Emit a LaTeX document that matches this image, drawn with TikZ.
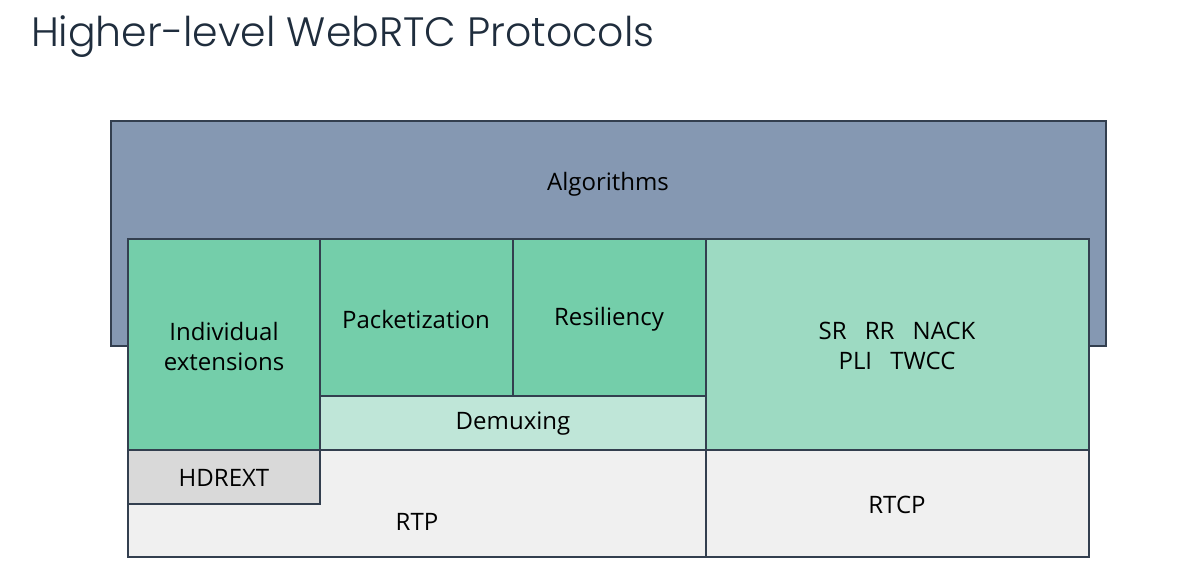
\documentclass[tikz,border=0pt]{standalone}
\usepackage{fontspec}
\setmainfont{Open Sans}
\newfontfamily\titlefont{Poppins Light}
\definecolor{algo}{HTML}{8598B2}
\definecolor{gdark}{HTML}{74CEAA}
\definecolor{gmid}{HTML}{9DDAC2}
\definecolor{glight}{HTML}{BFE6D8}
\definecolor{greyb}{HTML}{D9D9D9}
\definecolor{greyl}{HTML}{F0F0F0}
\definecolor{edge}{HTML}{333F4F}
\definecolor{titlec}{HTML}{1F2D3D}
\tikzset{blk/.style={draw=edge,line width=0.7pt},
 lbl/.style={font=\fontsize{12pt}{15pt}\selectfont,align=center,text=black}}
\begin{document}
\begin{tikzpicture}[x=0.5pt,y=-0.5pt]
\useasboundingbox (0,0) rectangle (1200,586);
\node[anchor=west,text=titlec,font=\titlefont\fontsize{20.5pt}{24pt}\selectfont] (title) at (24,37) {Higher-level WebRTC Protocols};
\draw[blk,fill=algo] (111,121) rectangle (1106,346);
\node[lbl] (alg) at (608,184) {Algorithms};
\draw[blk,fill=greyl] (128,450) rectangle (706,557);
\node[lbl] (rtp) at (417,522) {RTP};
\draw[blk,fill=greyl] (706,450) rectangle (1089,557);
\node[lbl] (rtcp) at (897,505) {RTCP};
\draw[blk,fill=greyb] (128,450) rectangle (320,504);
\node[lbl] (hdr) at (224,478) {HDREXT};
\draw[blk,fill=gdark] (128,239) rectangle (320,450);
\node[lbl] (ind) at (224,346) {Individual\\extensions};
\draw[blk,fill=gdark] (320,239) rectangle (513,396);
\node[lbl] (pkt) at (416,319) {Packetization};
\draw[blk,fill=gdark] (513,239) rectangle (706,396);
\node[lbl] (res) at (609,319) {Resiliency};
\draw[blk,fill=glight] (320,396) rectangle (706,450);
\node[lbl] (dem) at (513,424) {Demuxing};
\draw[blk,fill=gmid] (706,239) rectangle (1089,450);
\node[lbl] (sr) at (897,346) {SR\enspace\ RR\enspace\ NACK\\PLI\enspace\ TWCC};
\end{tikzpicture}
\end{document}
